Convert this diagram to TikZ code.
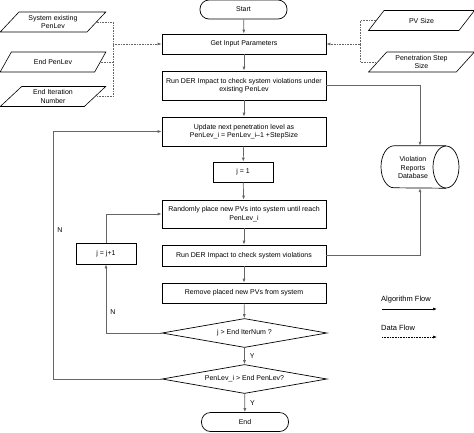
\documentclass[tikz,border=0pt]{standalone}
\usepackage{fontspec}
\setmainfont{Liberation Sans}
\usetikzlibrary{shapes.geometric,arrows.meta}
\begin{document}
\begin{tikzpicture}[x=1pt,y=-1pt,
  every node/.style={font=\fontsize{7}{8.4}\selectfont,align=center,inner sep=0pt},
  procbox/.style={draw,line width=0.7pt,minimum width=164pt},
  term/.style={draw,line width=0.7pt,rounded corners=9pt,minimum width=87pt,minimum height=19pt},
  decision/.style={draw,line width=0.7pt,diamond,aspect=5.7,minimum width=165pt,minimum height=29pt,inner sep=0pt},
  inbox/.style={draw,line width=0.6pt,trapezium,trapezium left angle=45,trapezium right angle=135,trapezium stretches=true,minimum width=106pt,minimum height=20pt},
  flow/.style={draw=black!60,line width=0.7pt,-{Latex[length=4pt,width=3pt]}},
  data/.style={draw=black!60,line width=0.6pt,densely dotted},
  lbl/.style={font=\fontsize{7}{8}\selectfont}]
\useasboundingbox (0,0) rectangle (474,432);
% main flow
\node[term] (start) at (243.5,9.5) {Start};
\node[procbox,minimum height=20pt] (get) at (244,44) {Get Input Parameters};
\node[procbox,minimum height=29pt] (run1) at (244,85.5) {Run DER Impact to check system violations under\\existing PenLev};
\node[procbox,minimum height=29pt] (upd) at (244,131.5) {Update next penetration level as\\PenLev\_i = PenLev\_i–1 +StepSize};
\node[draw,line width=0.7pt,minimum width=60pt,minimum height=20pt] (j1) at (243,172) {j = 1};
\node[procbox,minimum height=28pt] (rand) at (244,214) {Randomly place new PVs into system until reach\\PenLev\_i};
\node[procbox,minimum height=21pt] (run2) at (244,255.5) {Run DER Impact to check system violations};
\node[procbox,minimum height=20pt] (rem) at (244,293) {Remove placed new PVs from system};
\node[decision] (d1) at (244.5,333) {j > End IterNum ?};
\node[decision] (d2) at (244.5,379) {PenLev\_i > End PenLev?};
\node[term] (end) at (245,422) {End};
\node[draw,line width=0.7pt,minimum width=60pt,minimum height=21pt] (jinc) at (106,253.5) {j = j+1};
% database (horizontal cylinder)
\node[minimum width=78pt,minimum height=42pt] (db) at (420,167) {};
\node (dbt) at (413,167.5) {Violation\\Reports\\Database};
\draw[line width=0.7pt] ([xshift=26pt]db.north) -- ([xshift=-26pt]db.north)
   arc[start angle=90,end angle=270,x radius=13pt,y radius=21pt] -- ([xshift=26pt]db.south);
\draw[line width=0.7pt] ([xshift=26pt]db.center) ellipse [x radius=13pt,y radius=21pt];
% inputs
\node[inbox] (in1) at (53,22) {System existing\\PenLev};
\node[inbox] (in2) at (53,62) {End PenLev};
\node[inbox] (in3) at (53,96.5) {End Iteration\\Number};
\node[inbox] (in4) at (421.5,20.5) {PV Size};
\node[inbox] (in5) at (421.5,62) {Penetration Step\\Size};
% main arrows
\draw[flow] (start) -- (get);
\draw[flow] (get) -- (run1);
\draw[flow] (run1) -- (upd);
\draw[flow] (upd) -- (j1);
\draw[flow] (j1) -- (rand);
\draw[flow] (rand) -- (run2);
\draw[flow] (run2) -- (rem);
\draw[flow] (rem) -- (d1);
\draw[flow] (d1) -- node[lbl,right=5pt] {Y} (d2);
\draw[flow] (d2) -- node[lbl,right=5pt] {Y} (end);
% loops
\coordinate (li) at (106,333);
\coordinate (lo) at (53,379);
\draw[flow] (d1.west) -- (li) -- node[lbl,pos=0.3,right=4pt] {N} (jinc.south);
\draw[flow] (jinc.north) |- (rand.west);
\draw[flow] (d2.west) -- (lo) -- node[lbl,pos=0.6,right=4pt] {N} (lo |- upd.west) -- (upd.west);
% database links
\draw[flow] (run1.east) -| (db.north);
\draw[flow] (run2.east) -| (db.south);
% data flow
\coordinate (jl) at (113,44);
\coordinate (jr) at (360,44);
\draw[data] (in1.east) -| (jl);
\draw[data] (in3.east) -| (jl);
\draw[data] (in2.east) -- (in2.east -| jl);
\draw[data,-{Latex[length=4pt,width=3pt]}] (jl) -- (get.west);
\draw[data] (in4.west) -| (jr);
\draw[data] (in5.west) -| (jr);
\draw[data,-{Latex[length=4pt,width=3pt]}] (jr) -- (get.east);
% legend
\node[font=\fontsize{7.5}{9}\selectfont,anchor=west] (lg1) at (381,300) {Algorithm Flow};
\node[font=\fontsize{7.5}{9}\selectfont,anchor=west] (lg2) at (381,328) {Data Flow};
\coordinate (a1) at (382,309);
\coordinate (a2) at (437,309);
\coordinate (b1) at (382,337);
\coordinate (b2) at (437,337);
\draw[flow,draw=black] (a1) -- (a2);
\draw[data,draw=black,-{Latex[length=4pt,width=3pt]}] (b1) -- (b2);
\end{tikzpicture}
\end{document}
